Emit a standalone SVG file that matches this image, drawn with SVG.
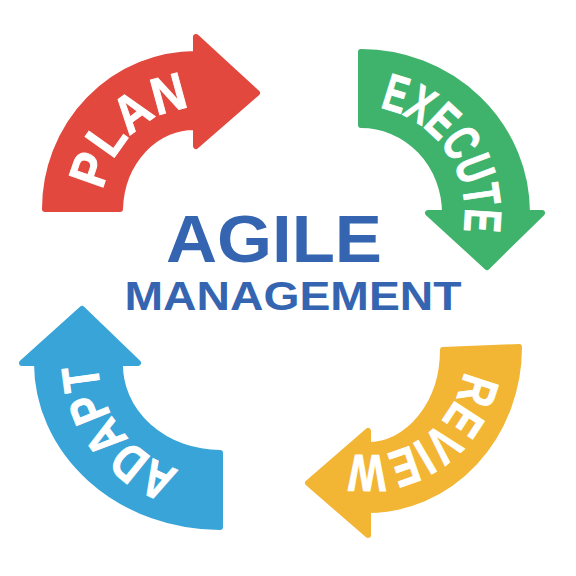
<svg xmlns="http://www.w3.org/2000/svg" width="576" height="576" viewBox="0 0 576 576">
<style>
.arrow { stroke-width: 6; stroke-linejoin: round; }
.lbl { font-family: "Liberation Sans", Arial, sans-serif; font-weight: bold; fill: #ffffff; stroke: #ffffff; stroke-width: 1; font-size: 52px; }
.title { font-family: "Liberation Sans", Arial, sans-serif; font-weight: bold; fill: #3565b1; }
</style>
<defs>
<path id="pPlan" d="M 101,212 A 95 104 0 0 1 196,108"/>
<path id="pExec" d="M 360,106 A 105 107 0 0 1 465,213 A 105 107 0 0 1 457,254"/>
<path id="pRev" d="M 466,352 A 98 103 0 0 1 368,455 A 98 103 0 0 1 330,447"/>
<path id="pAdapt" d="M 222,477 A 124 114 0 0 1 98,363 A 124 114 0 0 1 103,330"/>
</defs>
<rect width="576" height="576" fill="#ffffff"/>
<g id="connectors">
<g id="plan">
<path class="arrow" fill="#e2483d" stroke="#e2483d" d="M 45,209 A 151 155 0 0 1 196,54 L 196,37 L 257,93 L 196,146 L 196,127 A 74 85 0 0 0 120,209 Z"/>
<text class="lbl"><textPath href="#pPlan" startOffset="55%" text-anchor="middle" textLength="128" lengthAdjust="spacingAndGlyphs">PLAN</textPath></text>
</g>
<g id="execute">
<path class="arrow" fill="#3fb36c" stroke="#3fb36c" d="M 361,52 A 166 161 0 0 1 527,213 L 542,213 L 487,267 L 428,213 L 445,213 A 84 88 0 0 0 361,125 Z"/>
<text class="lbl"><textPath href="#pExec" startOffset="49%" text-anchor="middle" textLength="165" lengthAdjust="spacingAndGlyphs">EXECUTE</textPath></text>
</g>
<g id="review">
<path class="arrow" fill="#f2b534" stroke="#f2b534" d="M 519,347 A 151 163 0 0 1 368,510 L 368,535 L 308,483 L 368,431 L 368,445 A 75 95 0 0 0 443,350 Z"/>
<text class="lbl"><textPath href="#pRev" startOffset="50%" text-anchor="middle" textLength="158" lengthAdjust="spacingAndGlyphs">REVIEW</textPath></text>
</g>
<g id="adapt">
<path class="arrow" fill="#38a4d8" stroke="#38a4d8" d="M 220,527 A 183 164 0 0 1 37,363 L 22,363 L 82,309 L 138,363 L 120,363 A 100 88 0 0 0 220,453 Z"/>
<text class="lbl"><textPath href="#pAdapt" startOffset="52%" text-anchor="middle" textLength="142" lengthAdjust="spacingAndGlyphs">ADAPT</textPath></text>
</g>
</g>
<g id="center">
<text class="title" x="274" y="262" font-size="66" text-anchor="middle" textLength="216" lengthAdjust="spacingAndGlyphs">AGILE</text>
<text class="title" x="293" y="310" font-size="40" text-anchor="middle" textLength="337" lengthAdjust="spacingAndGlyphs">MANAGEMENT</text>
</g>
</svg>
